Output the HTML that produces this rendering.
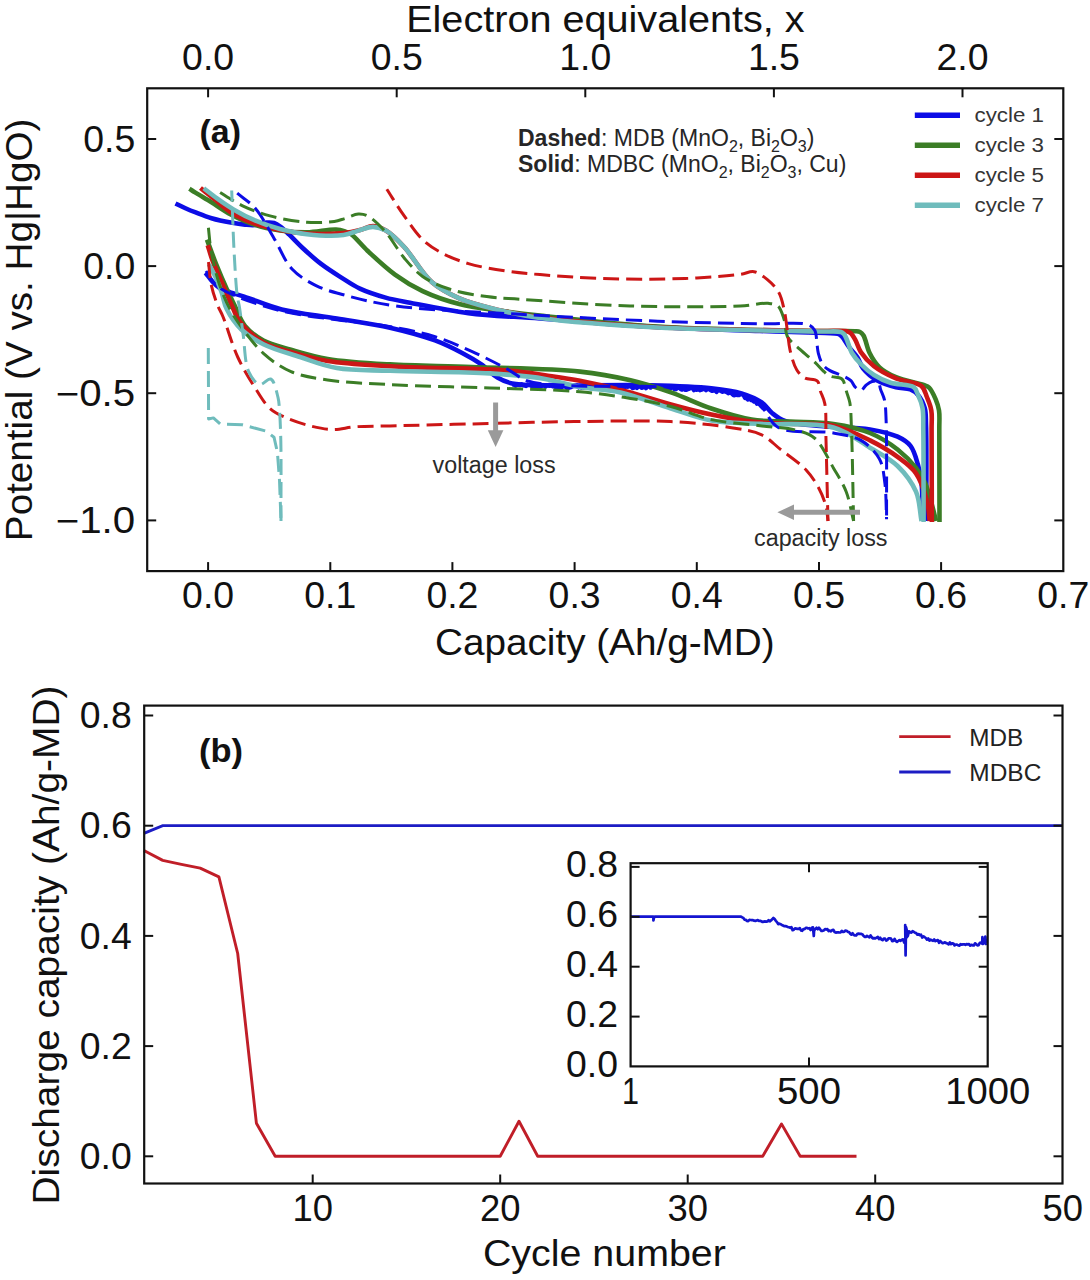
<!DOCTYPE html>
<html><head><meta charset="utf-8"><title>figure</title>
<style>
html,body{margin:0;padding:0;background:#fff;}
body{width:1090px;height:1280px;overflow:hidden;}
svg{display:block;font-family:"Liberation Sans", sans-serif;}
</style></head><body>
<svg width="1090" height="1280" viewBox="0 0 1090 1280">
<defs><clipPath id="clipA"><rect x="148" y="89" width="914" height="481"/></clipPath></defs>
<rect x="0" y="0" width="1090" height="1280" fill="#fff"/>
<g clip-path="url(#clipA)">
<path d="M175.5 203.5 C179.0 205.2 182.6 207.0 186.0 208.5 C189.1 209.9 191.5 210.9 195.0 212.2 C199.7 214.0 205.7 216.5 211.5 218.2 C217.6 220.0 224.8 221.5 230.8 222.6 C235.9 223.5 240.7 224.2 245.0 224.6 C248.6 224.9 251.6 225.3 255.0 225.0 C258.7 224.7 262.9 222.9 266.3 222.6 C269.1 222.4 271.6 222.3 274.0 223.0 C276.3 223.7 278.1 224.9 280.3 226.5 C283.1 228.5 286.1 231.6 289.3 234.7 C293.2 238.5 297.3 243.0 302.1 247.5 C307.8 252.8 314.8 259.2 321.4 264.2 C327.7 269.0 334.1 273.0 340.6 277.1 C347.0 281.1 352.8 285.3 359.9 288.6 C367.7 292.2 377.1 295.2 385.6 297.6 C393.8 299.9 400.1 300.8 410.0 302.7 C425.3 305.7 447.9 310.5 468.4 313.1 C491.0 316.0 513.2 316.5 540.0 318.5 C574.4 321.0 619.7 324.9 657.6 327.0 C692.9 329.0 729.7 329.9 760.0 331.0 C784.1 331.8 811.6 332.4 825.0 333.0 C831.0 333.3 835.0 332.8 838.0 333.8 C839.8 334.4 840.6 335.1 842.0 336.5 C844.2 338.7 846.5 343.6 849.0 347.0 C851.6 350.5 855.1 353.7 857.5 357.4 C859.8 360.9 860.3 364.9 863.0 368.4 C866.4 372.7 871.9 377.5 877.3 380.6 C882.9 383.8 890.1 385.7 896.0 387.2 C901.1 388.5 906.5 387.8 910.4 389.4 C913.5 390.7 915.8 392.3 918.0 394.9 C920.8 398.1 923.3 403.2 924.7 408.0 C926.2 413.2 925.7 417.0 926.0 425.0 C926.8 443.9 926.2 489.0 926.3 521.0" fill="none" stroke="#0c0ce6" stroke-width="4.6" stroke-linejoin="round" stroke-linecap="butt"/>
<path d="M205.5 272.7 C207.9 275.7 210.1 279.1 212.6 281.8 C214.8 284.2 216.9 286.4 219.6 288.1 C222.6 290.0 226.4 291.1 230.2 292.4 C234.5 293.9 238.4 294.7 244.2 296.6 C253.7 299.6 267.8 305.9 281.7 309.4 C298.2 313.5 318.6 315.4 336.8 318.5 C354.7 321.5 373.1 323.9 390.0 327.7 C405.7 331.3 422.0 335.6 435.0 340.4 C445.5 344.3 454.4 348.9 462.6 353.2 C469.5 356.8 475.2 360.1 481.0 364.2 C486.8 368.2 491.8 374.2 497.4 377.5 C502.2 380.4 506.1 382.1 512.1 383.5 C520.8 385.4 531.0 384.9 545.1 385.3 C570.3 386.0 620.4 384.5 650.7 385.3 C673.7 385.9 694.6 386.5 711.3 388.3 C723.1 389.6 732.6 390.7 741.5 393.4 C749.1 395.7 756.4 398.8 761.7 402.5 C766.1 405.5 768.2 409.9 772.0 413.0 C775.9 416.1 779.3 419.0 785.0 421.0 C793.6 424.1 807.3 424.7 820.0 426.0 C835.2 427.6 855.9 427.1 870.0 429.4 C880.7 431.2 890.4 433.3 897.6 436.7 C903.0 439.2 907.2 441.7 910.5 445.9 C914.2 450.6 916.0 458.0 917.8 464.2 C919.6 470.2 920.6 475.3 921.5 482.6 C922.7 493.0 922.5 508.2 923.0 521.0" fill="none" stroke="#0c0ce6" stroke-width="4.6" stroke-linejoin="round" stroke-linecap="butt"/>
<path d="M512.5 384.4 L514.0 384.8 L515.5 385.8 L517.0 384.7 L518.5 384.9 L520.0 385.2 L521.5 384.2 L523.0 385.2 L524.5 385.6 L526.0 386.1 L527.5 384.4 L529.0 385.0 L530.5 384.6 L532.0 386.5 L533.5 386.3 L535.0 384.7 L536.5 387.2 L538.0 387.3 L539.5 386.6 L541.0 386.6 L542.5 385.5 L544.0 385.2 L545.5 386.6 L547.0 385.4 L548.5 385.7 L550.0 385.9 L551.5 385.3 L553.0 386.5 L554.5 386.4 L556.0 387.5 L557.5 386.7 L559.0 387.0 L560.5 386.6 L562.0 387.1 L563.5 386.6 L565.0 386.1 L566.5 388.0 L568.0 388.0 L569.5 387.6 L571.0 387.3 L572.5 386.3 L574.0 386.1 L575.5 386.2 L577.0 385.7 L578.5 387.5 L580.0 386.6 L581.5 387.7 L583.0 386.6 L584.5 388.0 L586.0 387.8 L587.5 385.6 L589.0 386.1 L590.5 388.0 L592.0 386.8 L593.5 388.2 L595.0 386.7 L596.5 385.9 L598.0 387.3 L599.5 387.7 L601.0 386.4 L602.5 385.9 L604.0 386.6 L605.5 388.2 L607.0 387.7 L608.5 386.0 L610.0 386.3 L611.5 386.0 L613.0 385.9 L614.5 387.8 L616.0 386.2 L617.5 387.2 L619.0 386.9 L620.5 386.2 L622.0 387.6 L623.5 386.0 L625.0 387.4 L626.5 386.0 L628.0 386.8 L629.5 386.3 L631.0 386.4 L632.5 388.2 L634.0 387.8 L635.5 386.5 L637.0 388.0 L638.5 386.2 L640.0 386.7 L641.5 387.9 L643.0 387.4 L644.5 386.0 L646.0 388.3 L647.5 386.3 L649.0 386.4 L650.5 387.7 L652.0 386.6 L653.5 386.6 L655.0 386.1 L656.5 386.2 L658.0 387.6 L659.5 386.8 L661.0 387.8 L662.5 387.3 L664.0 387.5 L665.5 388.9 L667.0 387.8 L668.5 388.1 L670.0 388.9 L671.5 387.2 L673.0 387.2 L674.5 389.2 L676.0 389.1 L677.5 387.7 L679.0 387.6 L680.5 389.1 L682.0 389.7 L683.5 387.8 L685.0 389.9 L686.5 389.8 L688.0 389.1 L689.5 388.7 L691.0 388.0 L692.5 387.9 L694.0 390.3 L695.5 388.5 L697.0 389.8 L698.5 388.7 L700.0 390.3 L701.5 389.8 L703.0 389.1 L704.5 388.8 L706.0 390.3 L707.5 388.7 L709.0 389.2 L710.5 390.1 L712.0 391.0 L713.5 390.7 L715.0 390.1 L716.5 392.0 L718.0 390.4 L719.5 390.2 L721.0 391.1 L722.5 391.9 L724.0 391.1 L725.5 391.7 L727.0 392.5 L728.5 393.3 L730.0 392.4 L731.5 393.3 L733.0 394.9 L734.5 395.4 L736.0 394.8 L737.5 395.2 L739.0 395.2 L740.5 394.3 L742.0 394.4 L743.5 395.1 L745.0 398.1 L746.5 398.2 L748.0 399.6 L749.5 397.8 L751.0 400.1 L752.5 400.4 L754.0 401.7 L755.5 401.3 L757.0 403.8 L758.5 402.5 L760.0 404.9 L761.5 406.5 L763.0 408.0 L764.5 408.7 L766.0 409.8" fill="none" stroke="#0c0ce6" stroke-width="4.2" stroke-linejoin="round"/>
<path d="M189.4 188.8 C191.3 190.0 192.6 190.9 195.0 192.4 C199.0 194.9 205.8 198.8 211.5 202.3 C217.7 206.1 223.9 210.8 230.8 214.4 C238.3 218.3 246.7 222.1 255.0 224.8 C263.1 227.5 271.5 229.2 280.0 230.5 C288.7 231.8 297.7 232.5 306.8 232.4 C316.3 232.3 329.1 229.2 336.0 229.6 C339.9 229.8 342.3 230.6 345.0 231.5 C347.2 232.2 348.7 232.6 351.0 234.2 C355.4 237.2 361.2 244.8 367.5 250.7 C375.4 258.1 385.5 267.7 395.0 274.6 C403.9 281.1 412.5 286.4 422.6 291.1 C433.7 296.3 446.2 300.7 459.3 304.0 C473.5 307.6 490.8 309.3 505.0 311.3 C517.4 313.0 524.9 313.9 540.0 315.5 C567.6 318.4 614.7 323.9 657.0 326.5 C706.8 329.5 785.6 330.4 820.0 331.0 C835.9 331.3 848.6 330.7 855.0 331.2 C857.4 331.4 858.6 331.3 860.0 332.0 C861.4 332.7 862.4 333.7 863.5 335.5 C865.7 339.0 866.9 347.6 869.6 353.0 C872.2 358.2 875.3 363.3 879.5 367.3 C884.0 371.5 889.6 374.4 896.0 377.2 C903.8 380.6 918.0 382.9 923.6 385.0 C926.2 386.0 927.4 386.0 929.1 387.6 C931.6 389.9 934.0 395.4 935.7 399.3 C937.2 402.9 938.3 406.1 939.0 410.3 C939.9 415.9 939.2 421.0 939.3 430.0 C939.5 449.4 939.4 491.3 939.5 522.0" fill="none" stroke="#3b7d26" stroke-width="4.6" stroke-linejoin="round" stroke-linecap="butt"/>
<path d="M207.0 239.6 C210.0 247.8 212.9 256.0 216.1 264.2 C219.4 272.4 223.3 281.5 226.6 288.8 C229.3 294.8 231.6 299.3 234.4 305.0 C237.6 311.5 240.2 320.0 245.0 325.9 C249.8 331.8 256.2 336.7 263.4 340.6 C271.3 344.9 281.1 346.8 291.0 349.7 C302.3 353.0 313.7 356.6 327.6 358.9 C345.5 361.9 367.8 363.1 390.0 364.4 C415.4 365.9 442.6 365.9 471.7 367.0 C505.3 368.2 550.8 368.5 580.0 371.6 C600.1 373.7 614.7 376.6 630.5 380.3 C644.8 383.7 657.5 387.7 670.9 392.4 C684.5 397.1 697.7 403.9 711.3 408.5 C724.6 413.0 738.2 417.4 751.6 419.6 C764.4 421.7 776.8 420.9 790.0 421.6 C804.0 422.3 819.6 421.8 833.4 423.9 C846.2 425.8 859.0 428.4 870.0 433.0 C880.2 437.2 889.7 443.3 897.6 449.5 C904.7 455.1 911.2 461.8 916.0 467.9 C919.9 472.8 922.5 477.0 925.0 482.6 C928.0 489.1 930.1 498.1 932.0 505.0 C933.6 510.8 934.7 515.7 936.0 521.0" fill="none" stroke="#3b7d26" stroke-width="4.6" stroke-linejoin="round" stroke-linecap="butt"/>
<path d="M200.5 188.0 C205.1 191.7 209.5 195.2 214.3 199.0 C219.6 203.2 224.5 208.3 230.8 212.2 C237.9 216.6 246.7 220.7 255.0 223.7 C263.1 226.6 271.5 228.4 280.0 230.0 C288.7 231.7 297.1 232.9 306.8 233.5 C318.1 234.2 333.7 233.9 343.5 233.0 C350.1 232.4 354.9 231.3 360.0 230.0 C364.6 228.9 368.7 225.9 373.0 226.0 C377.3 226.1 381.5 228.0 385.9 230.6 C391.8 234.1 397.8 240.2 404.2 247.0 C412.8 256.2 421.6 273.2 431.7 282.0 C440.3 289.5 449.1 293.9 459.3 298.4 C470.4 303.3 483.1 306.3 496.0 309.4 C509.9 312.7 521.7 314.9 540.0 317.3 C569.7 321.2 615.2 324.9 657.6 327.2 C707.3 329.9 788.6 330.5 820.0 331.0 C832.8 331.2 842.3 330.0 847.0 331.2 C848.8 331.6 849.4 332.0 850.5 333.0 C852.2 334.4 853.8 337.1 855.3 339.8 C857.2 343.2 858.2 347.9 860.8 351.9 C864.0 356.7 868.6 362.0 874.0 366.2 C880.1 371.0 888.2 375.1 896.0 378.4 C904.0 381.8 916.4 381.8 921.4 386.0 C924.8 388.9 925.3 393.1 926.9 397.0 C928.6 401.2 930.5 405.4 931.3 410.3 C932.3 416.2 931.5 421.0 931.6 430.0 C931.8 449.4 931.7 491.3 931.8 522.0" fill="none" stroke="#cc1616" stroke-width="4.6" stroke-linejoin="round" stroke-linecap="butt"/>
<path d="M207.7 245.2 C209.3 250.4 210.5 255.0 212.6 260.7 C215.3 268.0 219.8 277.6 223.1 285.3 C226.1 292.2 228.7 298.7 231.6 305.0 C234.3 310.9 235.8 316.5 240.0 322.0 C245.4 329.1 254.7 337.5 263.4 342.5 C271.8 347.4 281.1 349.1 291.0 352.0 C302.3 355.3 313.7 358.7 327.6 361.0 C345.5 363.9 365.9 364.7 390.0 366.2 C423.2 368.2 480.2 368.3 508.4 370.6 C524.1 371.9 532.9 373.5 545.0 375.2 C556.8 376.9 567.3 378.2 580.0 380.7 C595.3 383.7 614.7 388.2 630.5 392.4 C644.8 396.2 657.4 400.8 670.9 404.5 C684.3 408.2 697.8 411.7 711.3 414.6 C724.7 417.4 738.3 420.1 751.6 421.6 C764.5 423.1 776.8 423.0 790.0 423.7 C804.0 424.4 819.8 422.7 833.4 425.7 C846.4 428.5 858.9 434.9 870.0 440.4 C880.1 445.4 889.6 451.0 897.6 456.9 C904.6 462.1 911.2 466.5 916.0 473.4 C921.3 480.9 924.7 492.4 927.0 501.0 C928.9 508.1 928.8 514.3 929.7 521.0" fill="none" stroke="#cc1616" stroke-width="4.6" stroke-linejoin="round" stroke-linecap="butt"/>
<path d="M203.8 188.3 C208.2 191.7 212.3 195.0 217.0 198.4 C222.1 202.1 227.5 205.9 233.5 209.4 C240.1 213.3 247.4 217.2 255.0 220.4 C262.9 223.8 271.4 226.7 280.0 229.0 C288.7 231.3 297.1 233.2 306.8 234.2 C318.0 235.4 334.1 236.3 343.5 235.0 C349.6 234.2 353.4 232.0 358.3 230.6 C363.2 229.3 368.3 226.8 373.0 226.9 C377.5 227.0 381.5 228.2 385.9 230.6 C391.8 233.9 397.8 240.2 404.2 247.0 C412.8 256.2 421.6 273.2 431.7 282.0 C440.3 289.5 449.1 293.9 459.3 298.4 C470.4 303.3 483.1 306.2 496.0 309.4 C509.9 312.8 521.7 315.5 540.0 318.0 C569.7 322.1 615.2 325.3 657.6 327.5 C707.3 330.1 791.4 330.8 820.0 331.5 C830.3 331.7 837.2 330.8 841.0 332.0 C842.6 332.5 843.1 333.1 844.0 334.0 C845.0 335.2 845.6 336.7 846.5 338.7 C848.1 342.1 849.5 348.7 852.0 353.0 C854.4 357.1 857.4 360.5 860.8 364.0 C864.6 367.9 869.1 371.9 874.0 375.0 C879.0 378.2 884.5 380.8 890.6 382.8 C897.5 385.1 909.3 384.0 913.7 387.2 C916.4 389.1 916.7 391.9 918.0 394.9 C919.7 398.6 921.6 403.0 922.5 408.0 C923.7 414.3 923.1 420.1 923.3 430.0 C923.7 450.1 923.5 491.3 923.6 522.0" fill="none" stroke="#6fbcbc" stroke-width="4.6" stroke-linejoin="round" stroke-linecap="butt"/>
<path d="M209.0 264.2 C211.4 268.9 214.0 273.6 216.1 278.3 C218.2 283.0 220.0 287.5 221.7 292.4 C223.5 297.7 223.9 303.4 226.7 309.0 C230.0 315.7 235.4 323.7 241.4 329.5 C247.6 335.5 254.8 339.9 263.4 344.2 C273.8 349.4 287.7 353.0 300.0 357.0 C312.2 361.0 323.3 365.7 336.8 368.0 C352.8 370.8 369.5 370.0 390.0 370.8 C418.1 371.9 461.6 371.6 490.0 373.4 C511.1 374.7 528.9 376.2 545.1 378.9 C558.1 381.1 567.9 384.8 580.0 387.0 C592.9 389.4 606.4 389.2 620.5 392.4 C636.5 396.0 655.0 403.6 670.9 408.5 C685.1 412.9 697.1 418.0 711.3 420.6 C726.6 423.4 742.1 422.9 760.0 423.9 C782.0 425.2 813.7 421.9 833.4 427.5 C848.3 431.7 858.8 440.9 870.0 447.7 C880.0 453.7 889.9 458.6 897.6 466.0 C905.1 473.3 912.0 482.4 916.0 491.7 C919.9 500.8 919.7 511.2 921.5 521.0" fill="none" stroke="#6fbcbc" stroke-width="4.6" stroke-linejoin="round" stroke-linecap="butt"/>
<path d="M237.2 193.2 C243.3 198.3 249.8 202.0 255.4 208.5 C262.2 216.3 267.8 227.9 273.8 237.9 C280.0 248.1 284.4 260.9 292.0 269.0 C298.8 276.3 307.4 281.3 316.0 285.6 C324.6 289.9 332.8 291.9 343.5 294.8 C357.9 298.7 374.0 302.9 395.0 305.8 C427.5 310.3 477.3 311.8 520.0 314.3 C564.8 316.9 615.1 319.6 657.6 321.2 C694.2 322.6 732.3 323.2 760.0 323.8 C779.0 324.2 799.5 321.6 808.0 324.7 C811.6 326.0 813.2 327.6 814.7 330.2 C816.6 333.5 816.4 339.9 817.0 344.0 C817.5 347.3 817.5 349.9 818.3 353.1 C819.3 356.9 820.8 362.0 823.0 365.0 C824.9 367.5 827.2 368.9 830.0 370.6 C833.6 372.7 839.4 374.2 843.2 376.1 C846.2 377.6 848.9 378.7 850.9 380.6 C852.8 382.4 853.5 385.5 855.3 387.2 C856.9 388.7 859.0 390.7 860.8 390.5 C862.7 390.3 864.4 386.5 866.3 385.0 C868.1 383.6 870.0 382.1 872.0 381.5 C873.9 381.0 876.6 380.5 878.0 381.5 C879.7 382.7 879.6 386.6 880.6 389.4 C881.7 392.7 883.6 395.8 884.5 400.0 C885.7 405.5 885.7 410.8 886.1 420.0 C887.0 440.7 886.4 487.3 886.6 521.0" fill="none" stroke="#0c0ce6" stroke-width="3.0" stroke-dasharray="16 7" stroke-linejoin="round"/>
<path d="M206.0 271.0 C209.0 275.3 211.2 280.3 215.0 284.0 C219.1 287.9 223.2 290.3 230.0 293.5 C241.8 299.2 264.0 306.6 281.7 311.0 C299.6 315.4 319.5 317.4 336.8 319.8 C352.1 321.9 364.8 322.5 380.0 325.0 C397.3 327.9 418.7 331.7 435.0 336.7 C448.7 340.9 459.6 346.0 471.7 351.4 C484.0 356.9 498.3 364.2 508.4 369.7 C515.7 373.7 519.3 378.1 526.8 380.7 C536.7 384.1 548.6 384.3 563.5 385.3 C586.2 386.9 623.7 385.8 650.0 386.5 C672.1 387.1 694.3 387.3 711.0 389.0 C722.8 390.2 732.4 390.9 741.0 394.0 C748.3 396.6 754.1 400.0 760.0 405.0 C766.7 410.7 769.2 422.6 778.3 427.5 C790.9 434.3 818.3 430.2 833.4 433.0 C844.3 435.0 853.2 435.9 861.0 440.4 C868.4 444.7 875.3 451.5 879.3 458.7 C883.2 465.7 883.6 473.7 884.8 482.6 C886.3 493.5 886.0 507.1 886.6 519.3" fill="none" stroke="#0c0ce6" stroke-width="3.0" stroke-dasharray="16 7" stroke-linejoin="round"/>
<path d="M853.6 521.0 C852.9 490.7 852.4 451.5 851.5 430.0 C851.0 418.2 851.1 409.6 849.8 402.6 C849.0 398.1 847.6 395.3 846.5 391.6 C845.4 387.9 844.5 382.8 843.2 380.6 C842.5 379.5 842.1 379.0 841.0 378.4 C838.8 377.2 833.0 377.5 830.0 376.1 C827.5 375.0 826.0 373.4 823.9 371.5 C821.1 369.1 818.4 365.6 815.0 362.4 C810.7 358.4 804.7 353.8 800.0 349.4 C795.6 345.2 790.1 341.7 787.5 336.7 C784.9 331.8 785.9 325.1 784.2 319.8 C782.6 314.9 781.1 308.7 778.0 306.0 C775.4 303.8 772.2 303.7 768.0 303.3 C761.1 302.7 752.6 305.4 740.2 306.0 C715.7 307.2 666.7 307.1 630.0 306.0 C593.3 304.9 546.0 301.0 520.0 299.2 C505.7 298.2 498.1 298.2 486.8 296.6 C474.8 294.9 461.2 293.0 450.0 289.3 C440.0 286.0 430.4 281.9 422.6 276.4 C415.3 271.3 410.1 264.9 404.2 258.0 C397.8 250.4 392.4 239.7 385.9 232.4 C380.1 225.9 372.9 218.6 367.5 215.9 C364.2 214.2 361.6 213.8 358.3 214.0 C354.2 214.2 348.9 217.3 344.6 218.6 C340.9 219.7 338.6 220.8 334.3 221.4 C327.4 222.4 316.6 223.0 306.8 222.3 C295.4 221.5 281.2 218.9 270.0 215.9 C260.1 213.2 251.6 210.1 242.6 205.8 C233.2 201.3 224.2 194.8 215.0 189.3" fill="none" stroke="#3b7d26" stroke-width="3.0" stroke-dasharray="16 7" stroke-linejoin="round"/>
<path d="M208.4 227.7 C209.3 235.1 209.5 241.9 211.0 250.0 C212.8 260.0 215.6 272.7 219.0 283.0 C222.2 292.6 226.1 301.9 230.4 310.0 C234.3 317.2 238.2 322.8 243.2 329.5 C249.0 337.2 255.6 346.4 263.4 353.4 C271.4 360.6 280.7 367.3 291.0 371.7 C302.0 376.4 313.7 377.9 327.6 380.0 C345.6 382.7 366.7 383.3 390.0 384.6 C419.4 386.2 457.5 386.8 490.0 388.0 C520.8 389.2 554.3 389.5 580.0 391.7 C599.3 393.4 614.6 395.8 630.5 398.4 C644.8 400.8 657.5 403.0 670.9 406.5 C684.5 410.0 697.0 416.4 711.3 419.6 C726.6 423.0 744.9 423.8 760.0 425.7 C773.1 427.3 786.7 427.5 796.7 430.3 C804.0 432.4 809.5 433.7 815.0 438.5 C822.2 444.8 828.0 458.5 833.4 467.9 C838.2 476.2 842.9 483.1 846.2 491.7 C849.7 500.8 851.1 511.2 853.6 521.0" fill="none" stroke="#3b7d26" stroke-width="3.0" stroke-dasharray="16 7" stroke-linejoin="round"/>
<path d="M828.0 521.0 C827.3 494.0 826.6 461.7 826.0 440.0 C825.6 425.5 826.5 412.6 824.8 403.6 C823.8 398.1 821.5 394.7 820.2 390.7 C819.1 387.3 819.6 383.2 817.4 381.1 C814.8 378.6 808.1 379.9 804.6 377.9 C801.3 376.0 798.9 373.3 796.7 369.7 C793.7 364.8 791.5 356.5 790.0 350.0 C788.6 343.9 788.4 338.3 787.5 332.0 C786.5 325.0 785.8 316.9 784.2 310.0 C782.8 303.7 781.6 297.4 778.7 292.3 C776.0 287.5 771.9 283.4 767.7 279.9 C763.6 276.5 758.7 272.5 754.0 271.7 C749.6 270.9 746.4 273.6 740.2 274.4 C728.0 276.0 705.4 277.7 685.2 278.5 C660.5 279.4 628.2 279.3 602.6 278.5 C580.3 277.8 557.8 276.1 540.0 274.6 C526.7 273.5 516.8 272.7 505.1 270.9 C493.0 269.1 479.6 266.9 468.4 263.6 C458.5 260.6 449.0 256.9 441.0 252.6 C434.0 248.8 428.3 245.2 422.6 239.7 C416.0 233.4 410.1 224.2 404.2 215.9 C398.1 207.4 392.6 198.2 386.8 189.3" fill="none" stroke="#cc1616" stroke-width="3.0" stroke-dasharray="16 7" stroke-linejoin="round"/>
<path d="M208.5 262.0 C209.4 269.5 209.7 277.3 211.2 284.6 C212.7 291.6 215.3 299.2 217.5 305.0 C219.2 309.5 220.9 311.6 223.0 316.7 C226.9 326.0 232.1 344.8 237.7 357.0 C242.7 367.8 248.5 377.5 254.2 386.4 C259.3 394.4 263.9 402.9 269.8 408.3 C274.8 412.8 280.1 415.1 286.3 417.9 C293.6 421.2 303.0 424.1 311.1 426.1 C318.6 427.9 325.8 429.4 333.1 429.5 C340.4 429.6 346.9 427.4 355.1 426.8 C365.4 426.0 375.9 426.3 390.0 425.9 C411.5 425.4 442.9 424.6 471.7 423.9 C503.9 423.1 540.4 422.0 574.0 421.6 C606.7 421.2 642.4 420.2 670.9 421.6 C693.5 422.7 714.9 424.9 731.5 427.7 C743.4 429.7 753.3 430.8 761.7 434.8 C769.0 438.3 773.3 443.7 779.9 448.9 C787.8 455.1 799.1 462.5 805.9 469.7 C811.4 475.6 815.3 481.7 818.7 488.0 C821.9 493.9 824.5 500.5 826.0 506.4 C827.3 511.5 827.3 516.1 828.0 521.0" fill="none" stroke="#cc1616" stroke-width="3.0" stroke-dasharray="16 7" stroke-linejoin="round"/>
<path d="M281.0 521.0 C280.9 494.0 281.3 460.4 280.8 440.0 C280.5 427.6 280.1 417.9 279.5 410.0 C279.1 404.9 279.1 401.9 278.0 397.4 C276.6 391.8 274.4 380.4 270.7 379.0 C267.8 377.9 263.1 385.3 259.7 384.6 C255.7 383.8 251.4 377.6 248.7 371.7 C244.7 363.0 244.8 346.4 243.2 335.0 C241.8 325.2 240.7 314.8 239.5 307.5 C238.7 302.7 237.9 300.9 237.2 295.6 C235.9 285.3 234.9 266.2 234.0 250.0 C233.0 231.5 232.5 210.3 231.7 190.5" fill="none" stroke="#6fbcbc" stroke-width="3.0" stroke-dasharray="16 7" stroke-linejoin="round"/>
<path d="M208.3 347.9 L208.6 419.0 L213.4 417.9 L220.3 424.1 L242.3 424.8 L265.7 431.0 L274.0 437.2 L277.4 452.3 L279.5 480.0 L281.0 521.0" fill="none" stroke="#6fbcbc" stroke-width="3.0" stroke-dasharray="16 7" stroke-linejoin="round"/>
</g>
<line x1="495.6" y1="402.5" x2="495.6" y2="431" stroke="#9a9a9a" stroke-width="5"/>
<path d="M487.8 430.3 L503.4 430.3 L495.6 447 Z" fill="#9a9a9a"/>
<line x1="860" y1="512.3" x2="792" y2="512.3" stroke="#9a9a9a" stroke-width="5"/>
<path d="M794 504.5 L794 520.1 L777.4 512.3 Z" fill="#9a9a9a"/>
<text x="432.6" y="472.8" font-size="23.0" text-anchor="start" font-weight="normal" fill="#2a2a2a" textLength="123.0" lengthAdjust="spacingAndGlyphs" >voltage loss</text>
<text x="754.0" y="546.4" font-size="23.0" text-anchor="start" font-weight="normal" fill="#2a2a2a" textLength="133.5" lengthAdjust="spacingAndGlyphs" >capacity loss</text>
<text x="199.5" y="142.8" font-size="34.0" text-anchor="start" font-weight="bold" fill="#111111" textLength="41.5" lengthAdjust="spacingAndGlyphs" >(a)</text>
<text x="518" y="146.4" font-size="23" fill="#262626"><tspan font-weight="bold">Dashed</tspan>: MDB (MnO<tspan font-size="16" dy="6">2</tspan><tspan dy="-6">, Bi</tspan><tspan font-size="16" dy="6">2</tspan><tspan dy="-6">O</tspan><tspan font-size="16" dy="6">3</tspan><tspan dy="-6">)</tspan></text>
<text x="518" y="172" font-size="23" fill="#262626"><tspan font-weight="bold">Solid</tspan>: MDBC (MnO<tspan font-size="16" dy="6">2</tspan><tspan dy="-6">, Bi</tspan><tspan font-size="16" dy="6">2</tspan><tspan dy="-6">O</tspan><tspan font-size="16" dy="6">3</tspan><tspan dy="-6">, Cu)</tspan></text>
<line x1="914.8" y1="115.2" x2="960" y2="115.2" stroke="#0c0ce6" stroke-width="5.5"/>
<text x="974.5" y="122.0" font-size="20.5" text-anchor="start" font-weight="normal" fill="#353535" textLength="69.5" lengthAdjust="spacingAndGlyphs" >cycle 1</text>
<line x1="914.8" y1="145.2" x2="960" y2="145.2" stroke="#3b7d26" stroke-width="5.5"/>
<text x="974.5" y="152.0" font-size="20.5" text-anchor="start" font-weight="normal" fill="#353535" textLength="69.5" lengthAdjust="spacingAndGlyphs" >cycle 3</text>
<line x1="914.8" y1="175.2" x2="960" y2="175.2" stroke="#cc1616" stroke-width="5.5"/>
<text x="974.5" y="182.0" font-size="20.5" text-anchor="start" font-weight="normal" fill="#353535" textLength="69.5" lengthAdjust="spacingAndGlyphs" >cycle 5</text>
<line x1="914.8" y1="205.2" x2="960" y2="205.2" stroke="#6fbcbc" stroke-width="5.5"/>
<text x="974.5" y="212.0" font-size="20.5" text-anchor="start" font-weight="normal" fill="#353535" textLength="69.5" lengthAdjust="spacingAndGlyphs" >cycle 7</text>
<rect x="147.2" y="88.3" width="916.1" height="482.8" fill="none" stroke="#111111" stroke-width="2.2"/>
<line x1="208.1" y1="571.1" x2="208.1" y2="562.1" stroke="#111111" stroke-width="2"/>
<text x="208.1" y="608.0" font-size="36.0" text-anchor="middle" font-weight="normal" fill="#111111" textLength="52.0" lengthAdjust="spacingAndGlyphs" >0.0</text>
<line x1="330.3" y1="571.1" x2="330.3" y2="562.1" stroke="#111111" stroke-width="2"/>
<text x="330.3" y="608.0" font-size="36.0" text-anchor="middle" font-weight="normal" fill="#111111" textLength="52.0" lengthAdjust="spacingAndGlyphs" >0.1</text>
<line x1="452.4" y1="571.1" x2="452.4" y2="562.1" stroke="#111111" stroke-width="2"/>
<text x="452.4" y="608.0" font-size="36.0" text-anchor="middle" font-weight="normal" fill="#111111" textLength="52.0" lengthAdjust="spacingAndGlyphs" >0.2</text>
<line x1="574.6" y1="571.1" x2="574.6" y2="562.1" stroke="#111111" stroke-width="2"/>
<text x="574.6" y="608.0" font-size="36.0" text-anchor="middle" font-weight="normal" fill="#111111" textLength="52.0" lengthAdjust="spacingAndGlyphs" >0.3</text>
<line x1="696.8" y1="571.1" x2="696.8" y2="562.1" stroke="#111111" stroke-width="2"/>
<text x="696.8" y="608.0" font-size="36.0" text-anchor="middle" font-weight="normal" fill="#111111" textLength="52.0" lengthAdjust="spacingAndGlyphs" >0.4</text>
<line x1="819.0" y1="571.1" x2="819.0" y2="562.1" stroke="#111111" stroke-width="2"/>
<text x="819.0" y="608.0" font-size="36.0" text-anchor="middle" font-weight="normal" fill="#111111" textLength="52.0" lengthAdjust="spacingAndGlyphs" >0.5</text>
<line x1="941.1" y1="571.1" x2="941.1" y2="562.1" stroke="#111111" stroke-width="2"/>
<text x="941.1" y="608.0" font-size="36.0" text-anchor="middle" font-weight="normal" fill="#111111" textLength="52.0" lengthAdjust="spacingAndGlyphs" >0.6</text>
<text x="1063.3" y="608.0" font-size="36.0" text-anchor="middle" font-weight="normal" fill="#111111" textLength="52.0" lengthAdjust="spacingAndGlyphs" >0.7</text>
<line x1="208.1" y1="88.3" x2="208.1" y2="97.3" stroke="#111111" stroke-width="2"/>
<text x="208.1" y="70.0" font-size="36.0" text-anchor="middle" font-weight="normal" fill="#111111" textLength="52.0" lengthAdjust="spacingAndGlyphs" >0.0</text>
<line x1="396.7" y1="88.3" x2="396.7" y2="97.3" stroke="#111111" stroke-width="2"/>
<text x="396.7" y="70.0" font-size="36.0" text-anchor="middle" font-weight="normal" fill="#111111" textLength="52.0" lengthAdjust="spacingAndGlyphs" >0.5</text>
<line x1="585.3" y1="88.3" x2="585.3" y2="97.3" stroke="#111111" stroke-width="2"/>
<text x="585.3" y="70.0" font-size="36.0" text-anchor="middle" font-weight="normal" fill="#111111" textLength="52.0" lengthAdjust="spacingAndGlyphs" >1.0</text>
<line x1="773.9" y1="88.3" x2="773.9" y2="97.3" stroke="#111111" stroke-width="2"/>
<text x="773.9" y="70.0" font-size="36.0" text-anchor="middle" font-weight="normal" fill="#111111" textLength="52.0" lengthAdjust="spacingAndGlyphs" >1.5</text>
<line x1="962.5" y1="88.3" x2="962.5" y2="97.3" stroke="#111111" stroke-width="2"/>
<text x="962.5" y="70.0" font-size="36.0" text-anchor="middle" font-weight="normal" fill="#111111" textLength="52.0" lengthAdjust="spacingAndGlyphs" >2.0</text>
<line x1="147.2" y1="139.0" x2="156.2" y2="139.0" stroke="#111111" stroke-width="2"/>
<line x1="1063.3" y1="139.0" x2="1054.3" y2="139.0" stroke="#111111" stroke-width="2"/>
<text x="135.2" y="151.7" font-size="36.0" text-anchor="end" font-weight="normal" fill="#111111" textLength="52.0" lengthAdjust="spacingAndGlyphs" >0.5</text>
<line x1="147.2" y1="266.1" x2="156.2" y2="266.1" stroke="#111111" stroke-width="2"/>
<line x1="1063.3" y1="266.1" x2="1054.3" y2="266.1" stroke="#111111" stroke-width="2"/>
<text x="135.2" y="278.8" font-size="36.0" text-anchor="end" font-weight="normal" fill="#111111" textLength="52.0" lengthAdjust="spacingAndGlyphs" >0.0</text>
<line x1="147.2" y1="393.2" x2="156.2" y2="393.2" stroke="#111111" stroke-width="2"/>
<line x1="1063.3" y1="393.2" x2="1054.3" y2="393.2" stroke="#111111" stroke-width="2"/>
<text x="135.2" y="405.9" font-size="36.0" text-anchor="end" font-weight="normal" fill="#111111" textLength="79.5" lengthAdjust="spacingAndGlyphs" >−0.5</text>
<line x1="147.2" y1="520.4" x2="156.2" y2="520.4" stroke="#111111" stroke-width="2"/>
<line x1="1063.3" y1="520.4" x2="1054.3" y2="520.4" stroke="#111111" stroke-width="2"/>
<text x="135.2" y="533.1" font-size="36.0" text-anchor="end" font-weight="normal" fill="#111111" textLength="79.5" lengthAdjust="spacingAndGlyphs" >−1.0</text>
<text x="605.4" y="31.5" font-size="36.0" text-anchor="middle" font-weight="normal" fill="#111111" textLength="398.5" lengthAdjust="spacingAndGlyphs" >Electron equivalents, x</text>
<text x="604.8" y="655.1" font-size="36.0" text-anchor="middle" font-weight="normal" fill="#111111" textLength="339.5" lengthAdjust="spacingAndGlyphs" >Capacity (Ah/g-MD)</text>
<text transform="translate(32,329.9) rotate(-90)" x="0" y="0" font-size="36.0" text-anchor="middle" fill="#111111" textLength="422.5" lengthAdjust="spacingAndGlyphs">Potential (V vs. Hg|HgO)</text>
<path d="M143.9 850.5 L162.7 860.4 L181.4 864.3 L200.2 868.1 L218.9 876.9 L237.7 953.5 L256.4 1123.2 L275.2 1156.3 L293.9 1156.3 L312.7 1156.3 L331.4 1156.3 L350.2 1156.3 L368.9 1156.3 L387.7 1156.3 L406.4 1156.3 L425.2 1156.3 L443.9 1156.3 L462.7 1156.3 L481.4 1156.3 L500.2 1156.3 L519.0 1121.2 L537.7 1156.3 L556.5 1156.3 L575.2 1156.3 L594.0 1156.3 L612.7 1156.3 L631.5 1156.3 L650.2 1156.3 L669.0 1156.3 L687.7 1156.3 L706.5 1156.3 L725.2 1156.3 L744.0 1156.3 L762.7 1156.3 L781.5 1123.9 L800.2 1156.3 L819.0 1156.3 L837.7 1156.3 L856.5 1156.3" fill="none" stroke="#c01e28" stroke-width="2.9" stroke-linejoin="round"/>
<path d="M143.9 833.4 L162.7 825.6 L1062.5 825.6" fill="none" stroke="#1c1cc4" stroke-width="2.9"/>
<rect x="144.2" y="705.6" width="918.3" height="477.9" fill="none" stroke="#111111" stroke-width="2.2"/>
<line x1="312.7" y1="1183.5" x2="312.7" y2="1174.5" stroke="#111111" stroke-width="2"/>
<text x="312.7" y="1221.0" font-size="36.0" text-anchor="middle" font-weight="normal" fill="#111111" textLength="40.5" lengthAdjust="spacingAndGlyphs" >10</text>
<line x1="500.2" y1="1183.5" x2="500.2" y2="1174.5" stroke="#111111" stroke-width="2"/>
<text x="500.2" y="1221.0" font-size="36.0" text-anchor="middle" font-weight="normal" fill="#111111" textLength="40.5" lengthAdjust="spacingAndGlyphs" >20</text>
<line x1="687.7" y1="1183.5" x2="687.7" y2="1174.5" stroke="#111111" stroke-width="2"/>
<text x="687.7" y="1221.0" font-size="36.0" text-anchor="middle" font-weight="normal" fill="#111111" textLength="40.5" lengthAdjust="spacingAndGlyphs" >30</text>
<line x1="875.2" y1="1183.5" x2="875.2" y2="1174.5" stroke="#111111" stroke-width="2"/>
<text x="875.2" y="1221.0" font-size="36.0" text-anchor="middle" font-weight="normal" fill="#111111" textLength="40.5" lengthAdjust="spacingAndGlyphs" >40</text>
<text x="1062.7" y="1221.0" font-size="36.0" text-anchor="middle" font-weight="normal" fill="#111111" textLength="40.5" lengthAdjust="spacingAndGlyphs" >50</text>
<line x1="144.2" y1="1156.3" x2="153.2" y2="1156.3" stroke="#111111" stroke-width="2"/>
<line x1="1062.5" y1="1156.3" x2="1053.5" y2="1156.3" stroke="#111111" stroke-width="2"/>
<text x="131.8" y="1169.0" font-size="36.0" text-anchor="end" font-weight="normal" fill="#111111" textLength="52.0" lengthAdjust="spacingAndGlyphs" >0.0</text>
<line x1="144.2" y1="1046.1" x2="153.2" y2="1046.1" stroke="#111111" stroke-width="2"/>
<line x1="1062.5" y1="1046.1" x2="1053.5" y2="1046.1" stroke="#111111" stroke-width="2"/>
<text x="131.8" y="1058.8" font-size="36.0" text-anchor="end" font-weight="normal" fill="#111111" textLength="52.0" lengthAdjust="spacingAndGlyphs" >0.2</text>
<line x1="144.2" y1="935.9" x2="153.2" y2="935.9" stroke="#111111" stroke-width="2"/>
<line x1="1062.5" y1="935.9" x2="1053.5" y2="935.9" stroke="#111111" stroke-width="2"/>
<text x="131.8" y="948.6" font-size="36.0" text-anchor="end" font-weight="normal" fill="#111111" textLength="52.0" lengthAdjust="spacingAndGlyphs" >0.4</text>
<line x1="144.2" y1="825.7" x2="153.2" y2="825.7" stroke="#111111" stroke-width="2"/>
<line x1="1062.5" y1="825.7" x2="1053.5" y2="825.7" stroke="#111111" stroke-width="2"/>
<text x="131.8" y="838.4" font-size="36.0" text-anchor="end" font-weight="normal" fill="#111111" textLength="52.0" lengthAdjust="spacingAndGlyphs" >0.6</text>
<line x1="144.2" y1="715.5" x2="153.2" y2="715.5" stroke="#111111" stroke-width="2"/>
<line x1="1062.5" y1="715.5" x2="1053.5" y2="715.5" stroke="#111111" stroke-width="2"/>
<text x="131.8" y="728.2" font-size="36.0" text-anchor="end" font-weight="normal" fill="#111111" textLength="52.0" lengthAdjust="spacingAndGlyphs" >0.8</text>
<text x="604.4" y="1265.5" font-size="36.0" text-anchor="middle" font-weight="normal" fill="#111111" textLength="243.0" lengthAdjust="spacingAndGlyphs" >Cycle number</text>
<text transform="translate(58.5,945) rotate(-90)" x="0" y="0" font-size="36.0" text-anchor="middle" fill="#111111" textLength="519" lengthAdjust="spacingAndGlyphs">Discharge capacity (Ah/g-MD)</text>
<text x="199.0" y="762.0" font-size="34.0" text-anchor="start" font-weight="bold" fill="#111111" textLength="44.0" lengthAdjust="spacingAndGlyphs" >(b)</text>
<line x1="899.2" y1="736.6" x2="950.6" y2="736.6" stroke="#c01e28" stroke-width="2.9"/>
<line x1="899.2" y1="772" x2="950.6" y2="772" stroke="#1c1cc4" stroke-width="2.9"/>
<text x="969.3" y="746.0" font-size="24.5" text-anchor="start" font-weight="normal" fill="#222" textLength="54.0" lengthAdjust="spacingAndGlyphs" >MDB</text>
<text x="969.3" y="780.8" font-size="24.5" text-anchor="start" font-weight="normal" fill="#222" textLength="72.0" lengthAdjust="spacingAndGlyphs" >MDBC</text>
<path d="M630.6 916.6 L631.8 916.6 L633.0 916.6 L634.2 916.6 L635.4 916.6 L636.6 916.6 L637.8 916.6 L639.0 916.6 L640.2 916.6 L641.4 916.6 L642.6 916.6 L643.8 916.6 L645.0 916.6 L646.2 916.6 L647.4 916.6 L648.6 916.6 L649.8 916.6 L651.0 916.6 L652.2 916.6 L653.4 916.6 L653.4 920.5 L654.2 917.0 L654.6 916.6 L655.8 916.6 L657.0 916.6 L658.2 916.6 L659.4 916.6 L660.6 916.6 L661.8 916.6 L663.0 916.6 L664.2 916.6 L665.4 916.6 L666.6 916.6 L667.8 916.6 L669.0 916.6 L670.2 916.6 L671.4 916.6 L672.6 916.6 L673.8 916.6 L675.0 916.6 L676.2 916.6 L677.4 916.6 L678.6 916.6 L679.8 916.6 L681.0 916.6 L682.2 916.6 L683.4 916.6 L684.6 916.6 L685.8 916.6 L687.0 916.6 L688.2 916.6 L689.4 916.6 L690.6 916.6 L691.8 916.6 L693.0 916.6 L694.2 916.6 L695.4 916.6 L696.6 916.6 L697.8 916.6 L699.0 916.6 L700.2 916.6 L701.4 916.6 L702.6 916.6 L703.8 916.6 L705.0 916.6 L706.2 916.6 L707.4 916.6 L708.6 916.6 L709.8 916.6 L711.0 916.6 L712.2 916.6 L713.4 916.6 L714.6 916.6 L715.8 916.6 L717.0 916.6 L718.2 916.6 L719.4 916.6 L720.6 916.6 L721.8 916.6 L723.0 916.6 L724.2 916.6 L725.4 916.6 L726.6 916.6 L727.8 916.6 L729.0 916.6 L730.2 916.6 L731.4 916.6 L732.6 916.6 L733.8 916.6 L735.0 916.6 L736.2 916.6 L737.4 916.6 L738.6 916.6 L739.8 916.6 L741.0 916.6 L742.2 917.4 L743.4 918.0 L744.6 919.7 L745.8 919.9 L747.0 920.9 L748.2 921.1 L749.4 919.8 L750.6 920.0 L751.8 920.1 L753.0 920.2 L754.2 920.7 L755.4 920.9 L756.6 920.5 L757.8 920.1 L759.0 920.9 L760.2 920.9 L761.4 921.3 L762.6 922.0 L763.8 921.6 L765.0 921.4 L766.2 921.7 L767.4 921.5 L768.6 920.2 L769.8 921.3 L771.0 920.4 L772.2 919.3 L773.4 917.9 L774.6 919.0 L775.8 920.8 L777.0 922.1 L778.2 924.1 L779.4 923.7 L780.6 924.2 L781.8 925.0 L783.0 925.5 L784.2 926.2 L785.4 926.1 L786.6 926.4 L787.8 927.0 L789.0 927.3 L790.2 927.8 L791.4 927.1 L792.6 930.2 L793.8 929.7 L795.0 928.4 L796.2 928.6 L797.4 928.9 L798.6 928.9 L799.8 928.1 L801.0 930.4 L802.2 930.8 L803.4 929.1 L804.6 929.1 L805.8 927.8 L807.0 927.8 L808.2 928.5 L809.4 928.2 L810.6 930.0 L811.8 927.8 L813.0 927.4 L813.8 936.0 L814.2 929.0 L814.2 930.3 L815.4 928.9 L816.6 927.8 L817.8 929.2 L819.0 927.7 L820.2 929.4 L821.4 931.0 L822.6 930.8 L823.8 930.4 L825.0 929.1 L826.2 929.6 L827.4 929.1 L828.6 931.2 L829.8 930.5 L831.0 931.4 L832.2 930.1 L833.4 929.9 L834.6 932.0 L835.8 932.6 L837.0 932.4 L838.2 932.3 L839.4 932.5 L840.6 932.4 L841.8 930.9 L843.0 932.0 L844.2 931.6 L845.4 930.7 L846.6 930.8 L847.8 931.8 L849.0 932.0 L850.2 933.6 L851.4 934.6 L852.6 933.2 L853.8 935.0 L855.0 935.4 L856.2 935.5 L857.4 933.8 L858.6 933.6 L859.8 933.8 L861.0 933.9 L862.2 934.2 L863.4 935.7 L864.6 936.8 L865.8 936.9 L867.0 935.9 L868.2 936.7 L869.4 937.4 L870.6 935.3 L871.8 937.4 L873.0 938.4 L874.2 938.2 L875.4 938.3 L876.6 937.6 L877.8 936.9 L879.0 939.1 L880.2 937.8 L881.4 939.5 L882.6 940.2 L883.8 938.5 L885.0 938.7 L886.2 940.6 L887.4 940.0 L888.6 938.3 L889.8 938.3 L891.0 938.5 L892.2 941.1 L893.4 940.9 L894.6 938.9 L895.8 941.2 L897.0 941.9 L898.2 941.0 L899.4 940.1 L900.6 940.9 L901.8 939.7 L903.0 939.4 L904.2 942.5 L905.4 940.5 L905.2 925.0 L905.6 955.5 L906.0 927.0 L907.5 933.0 L906.6 937.3 L907.8 935.8 L909.0 931.3 L910.2 932.2 L911.4 932.6 L912.6 931.2 L913.8 931.9 L915.0 932.7 L916.2 933.1 L917.4 934.7 L918.6 934.1 L919.8 935.1 L921.0 934.7 L922.2 937.6 L923.4 936.3 L924.6 937.2 L925.8 938.0 L927.0 939.6 L928.2 938.5 L929.4 940.6 L930.6 939.7 L931.8 940.3 L933.0 940.8 L934.2 939.5 L935.4 941.1 L936.6 940.5 L937.8 940.1 L939.0 942.8 L940.2 941.0 L941.4 942.2 L942.6 943.2 L943.8 942.9 L945.0 942.3 L946.2 943.1 L947.4 943.5 L948.6 944.4 L949.8 942.4 L951.0 944.1 L952.2 943.3 L953.4 943.6 L954.6 945.4 L955.8 944.5 L957.0 944.6 L958.2 945.3 L959.4 945.7 L960.6 944.2 L961.8 944.7 L963.0 944.3 L964.2 944.3 L965.4 944.9 L966.6 944.1 L967.8 944.3 L969.0 944.1 L970.2 945.6 L971.4 944.8 L972.6 945.3 L973.8 945.5 L975.0 943.3 L976.2 944.2 L977.4 945.4 L978.6 945.1 L979.8 942.8 L981.0 942.7 L982.2 943.7 L982.4 937.0 L983.0 944.0 L983.4 942.5 L984.6 943.0 L985.4 936.5 L986.0 944.0 L985.8 942.5" fill="none" stroke="#1414d0" stroke-width="2.7" stroke-linejoin="round"/>
<rect x="630.6" y="863.2" width="357.1" height="203.2" fill="none" stroke="#111111" stroke-width="2.2"/>
<text x="618.0" y="1076.7" font-size="36.0" text-anchor="end" font-weight="normal" fill="#111111" textLength="52.0" lengthAdjust="spacingAndGlyphs" >0.0</text>
<line x1="630.6" y1="1016.6" x2="639.6" y2="1016.6" stroke="#111111" stroke-width="2"/>
<line x1="987.7" y1="1016.6" x2="978.7" y2="1016.6" stroke="#111111" stroke-width="2"/>
<text x="618.0" y="1026.8" font-size="36.0" text-anchor="end" font-weight="normal" fill="#111111" textLength="52.0" lengthAdjust="spacingAndGlyphs" >0.2</text>
<line x1="630.6" y1="966.7" x2="639.6" y2="966.7" stroke="#111111" stroke-width="2"/>
<line x1="987.7" y1="966.7" x2="978.7" y2="966.7" stroke="#111111" stroke-width="2"/>
<text x="618.0" y="976.9" font-size="36.0" text-anchor="end" font-weight="normal" fill="#111111" textLength="52.0" lengthAdjust="spacingAndGlyphs" >0.4</text>
<line x1="630.6" y1="916.8" x2="639.6" y2="916.8" stroke="#111111" stroke-width="2"/>
<line x1="987.7" y1="916.8" x2="978.7" y2="916.8" stroke="#111111" stroke-width="2"/>
<text x="618.0" y="927.0" font-size="36.0" text-anchor="end" font-weight="normal" fill="#111111" textLength="52.0" lengthAdjust="spacingAndGlyphs" >0.6</text>
<line x1="630.6" y1="866.9" x2="639.6" y2="866.9" stroke="#111111" stroke-width="2"/>
<line x1="987.7" y1="866.9" x2="978.7" y2="866.9" stroke="#111111" stroke-width="2"/>
<text x="618.0" y="877.1" font-size="36.0" text-anchor="end" font-weight="normal" fill="#111111" textLength="52.0" lengthAdjust="spacingAndGlyphs" >0.8</text>
<line x1="809.0" y1="1066.4" x2="809.0" y2="1057.4" stroke="#111111" stroke-width="2"/>
<line x1="809.0" y1="863.2" x2="809.0" y2="872.2" stroke="#111111" stroke-width="2"/>
<text x="630.6" y="1104.3" font-size="36.0" text-anchor="middle" font-weight="normal" fill="#111111" textLength="17.0" lengthAdjust="spacingAndGlyphs" >1</text>
<text x="809.0" y="1104.3" font-size="36.0" text-anchor="middle" font-weight="normal" fill="#111111" textLength="64.0" lengthAdjust="spacingAndGlyphs" >500</text>
<text x="987.7" y="1104.3" font-size="36.0" text-anchor="middle" font-weight="normal" fill="#111111" textLength="85.0" lengthAdjust="spacingAndGlyphs" >1000</text>
</svg>
</body></html>
